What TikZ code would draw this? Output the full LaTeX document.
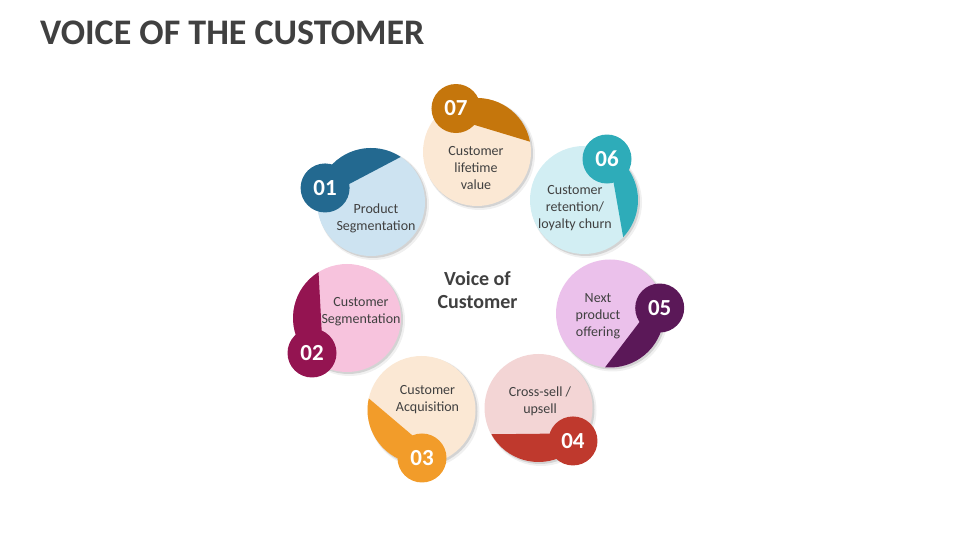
\documentclass[tikz,border=0pt]{standalone}
\usepackage{fontspec}
\setmainfont{Carlito}
\usetikzlibrary{calc}
\definecolor{txtc}{HTML}{404040}
\definecolor{lb1}{HTML}{CDE3F1}\definecolor{db1}{HTML}{236990}
\definecolor{lb7}{HTML}{FBE8D4}\definecolor{db7}{HTML}{C5760C}
\definecolor{lb6}{HTML}{D2EEF3}\definecolor{db6}{HTML}{2EACB9}
\definecolor{lb5}{HTML}{EBC1EB}\definecolor{db5}{HTML}{5B1858}
\definecolor{lb4}{HTML}{F3D5D5}\definecolor{db4}{HTML}{BF392D}
\definecolor{lb3}{HTML}{FBE8D4}\definecolor{db3}{HTML}{F29C2A}
\definecolor{lb2}{HTML}{F7C3DD}\definecolor{db2}{HTML}{941451}
\tikzset{
  bigdisc/.style={circle, minimum size=108pt, inner sep=0pt, outer sep=0pt},
  badge/.style={circle, minimum size=49pt, inner sep=0pt, outer sep=0pt},
  badgenum/.style={text=white, font=\fontsize{23}{27}\selectfont\bfseries, inner sep=0pt},
  itemtext/.style={align=center, text=txtc, font=\fontsize{14}{17}\selectfont, inner sep=0pt},
}
\begin{document}
\begin{tikzpicture}[x=1pt,y=1pt]
\useasboundingbox (0,0) rectangle (960,540);
\node[anchor=base west, font=\fontsize{36}{43}\selectfont\bfseries, text=txtc, inner sep=0pt] (title) at (40,495) {VOICE OF THE CUSTOMER};
\node[align=center, font=\fontsize{20}{23}\selectfont\bfseries, text=txtc, inner sep=0pt] (centertext) at (477.5,249.5) {Voice of\\Customer};
\foreach \n/\cx/\cy/\aa/\ab/\ba/\bd/\tx/\ty/\lc/\dc/\txt in {
  01/371/338/56.6/178.9/163/48/376/321.5/lb1/db1/{Product\\Segmentation},
  07/477/388/11/135.4/115.8/48.3/476/372/lb7/db7/{Customer\\lifetime\\value},
  06/584/340/-43.5/63.4/60.7/47/575/332/lb6/db6/{Customer\\retention/\\loyalty churn},
  05/610/226.5/-95.2/20.7/6.3/50/598/224/lb5/db5/{Next\\product\\offering},
  04/538.5/132/-150.9/-27.9/-43.7/47.7/540/138.5/lb4/db4/{Cross-sell /\\upsell},
  03/421.5/130/167.6/291.8/270.6/48/427.5/140.5/lb3/db3/{Customer\\Acquisition},
  02/347/222/121.8/244.3/225/49.5/361/228.5/lb2/db2/{Customer\\Segmentation}}
{
  \fill[black, opacity=0.06] (\cx+2.5,\cy-2.5) circle (55.5);
  \fill[black, opacity=0.12] (\cx+1.5,\cy-1.5) circle (54.5);
  \node[bigdisc, fill=\lc] (c\n) at (\cx,\cy) {};
  \fill[\dc] (c\n.center) ++(\aa:54) arc[start angle=\aa, end angle=\ab, radius=54] -- cycle;
  \node[badge, fill=\dc] (b\n) at ($(c\n.center)+(\ba:\bd)$) {};
  \node[badgenum] (n\n) at (b\n.center) {\n};
  \node[itemtext] (t\n) at (\tx,\ty) {\txt};
}
\end{tikzpicture}
\end{document}
